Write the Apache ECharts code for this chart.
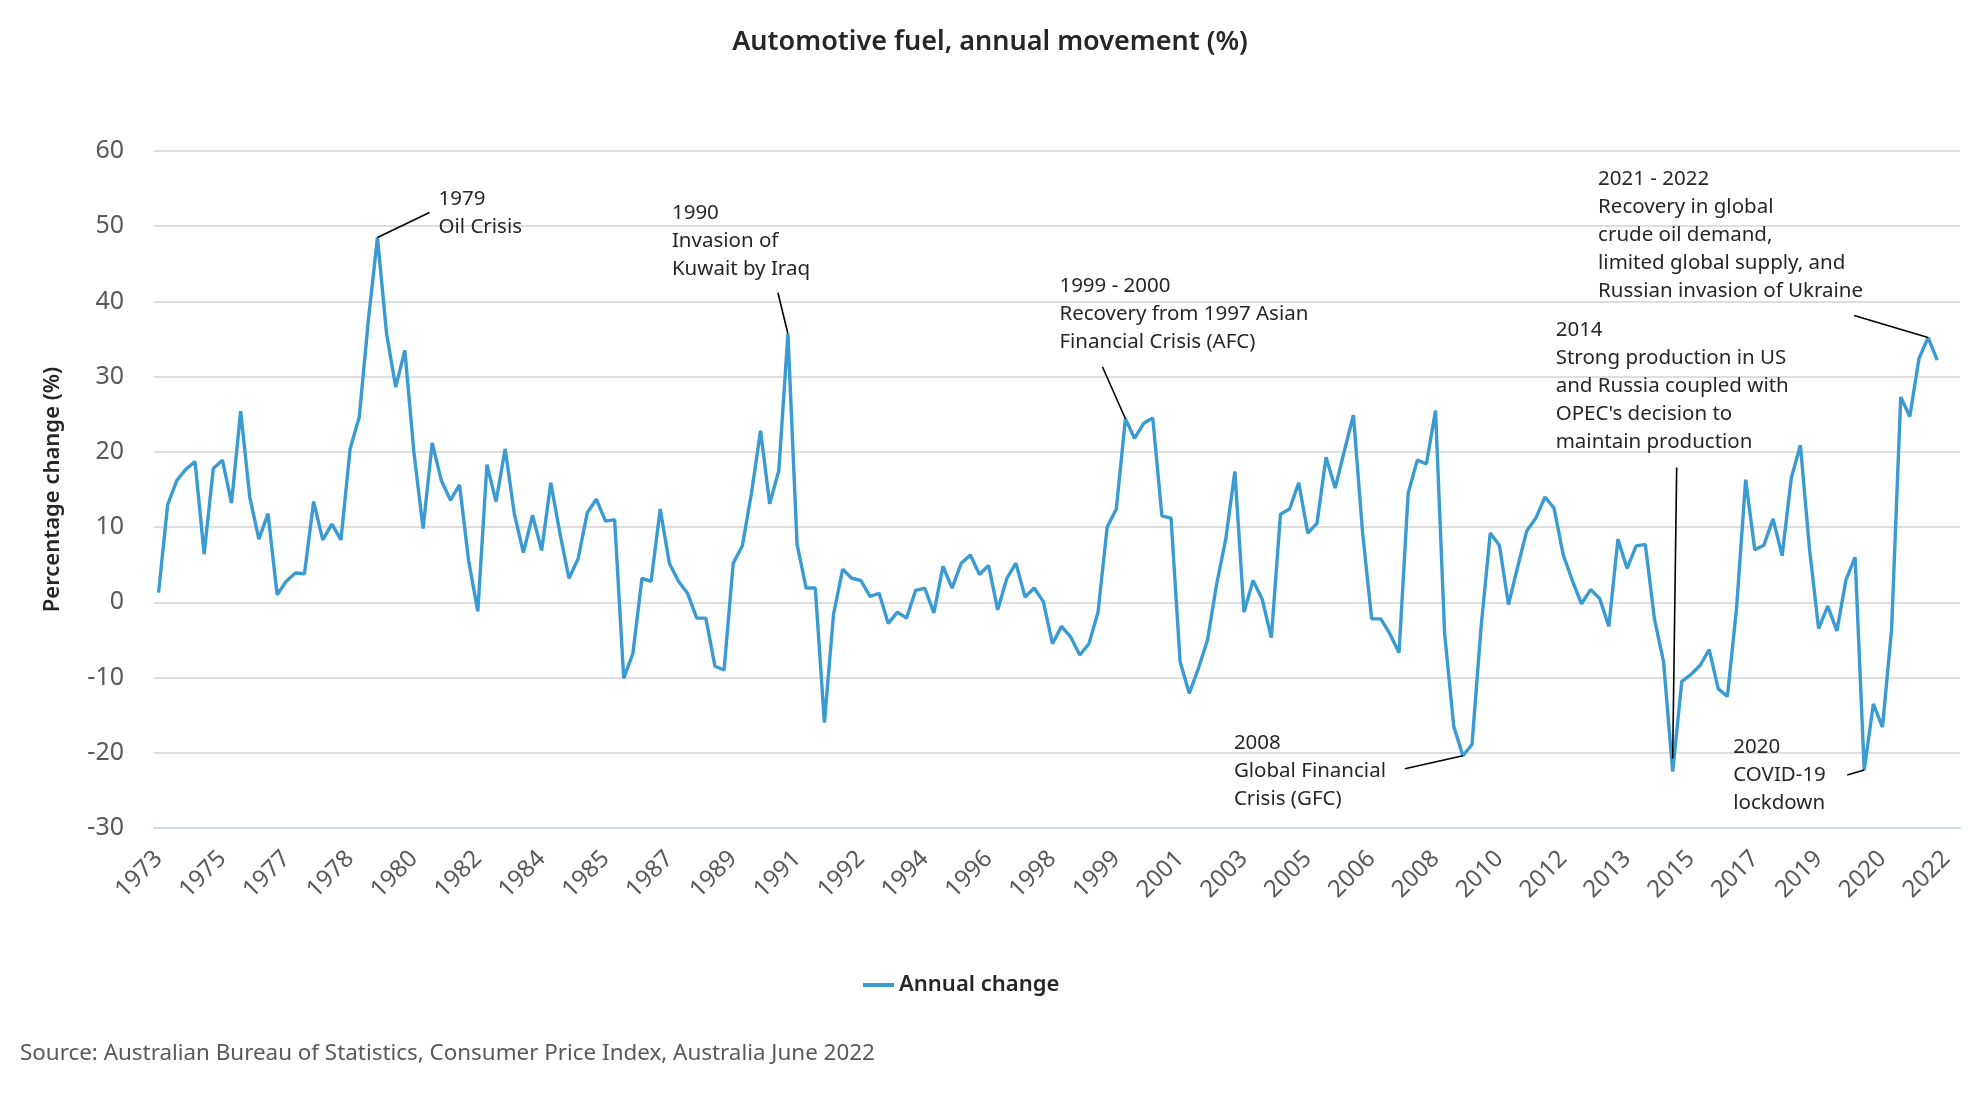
<!DOCTYPE html>
<html>
<head>
<meta charset="utf-8">
<title>Automotive fuel, annual movement (%)</title>
<script src="https://cdn.jsdelivr.net/npm/echarts@6/dist/echarts.min.js"></script>
<style>
  html, body { margin: 0; padding: 0; background: #ffffff; }
  #chart { width: 1980px; height: 1100px; }
</style>
</head>
<body>
<div id="chart"></div>
<script>
// quarterly categories, Sep 1973 .. Dec 2022 (last two quarters have no value yet)
const quarterMonths = ['Mar', 'Jun', 'Sep', 'Dec']
const categories = []
for (let y = 1973; y <= 2022; y++) {
  quarterMonths.forEach((m, q) => {
    if (y === 1973 && q < 2) return
    categories.push(m + ' ' + y)
  })
}

// annual change (%)
const annualChange = [
  1.3, 13.0, 16.2, 17.7, 18.7, 6.4, 17.8, 18.9, 13.2, 25.4, 14.0, 8.4, 11.8, 1.0, 2.8, 3.9, 3.8, 13.4, 8.3, 10.4, 8.3, 20.4, 24.6, 37.5, 48.5,
  35.7, 28.6, 33.5, 19.9, 9.8, 21.2, 16.2, 13.6, 15.6, 5.5, -1.2, 18.3, 13.4, 20.4, 11.8, 6.6, 11.6, 6.9, 15.9, 9.2, 3.2, 5.8, 11.9, 13.7, 10.8,
  11.0, -10.1, -6.8, 3.2, 2.8, 12.4, 5.2, 2.8, 1.2, -2.1, -2.1, -8.5, -9.0, 5.2, 7.5, 14.5, 22.8, 13.1, 17.5, 35.7, 7.7, 1.9, 1.9, -16.0, -1.6,
  4.4, 3.2, 2.9, 0.8, 1.2, -2.8, -1.3, -2.1, 1.6, 1.9, -1.4, 4.8, 1.9, 5.2, 6.3, 3.7, 4.9, -1.0, 3.2, 5.2, 0.7, 1.9, 0.1, -5.5, -3.2, -4.6,
  -7.0, -5.5, -1.3, 10.0, 12.4, 24.4, 21.8, 23.8, 24.5, 11.5, 11.2, -7.9, -12.1, -8.8, -5.0, 2.4, 8.4, 17.4, -1.3, 2.9, 0.4, -4.7, 11.7, 12.4, 15.9,
  9.2, 10.5, 19.3, 15.2, 20.1, 24.9, 9.3, -2.2, -2.2, -4.2, -6.7, 14.5, 18.9, 18.4, 25.5, -4.2, -16.5, -20.4, -18.9, -3.2, 9.2, 7.6, -0.3, 4.7, 9.5,
  11.2, 14.0, 12.5, 6.3, 2.9, -0.2, 1.7, 0.5, -3.2, 8.4, 4.5, 7.5, 7.7, -2.2, -7.9, -22.5, -10.5, -9.6, -8.4, -6.3, -11.5, -12.5, -0.8, 16.3, 7.0,
  7.6, 11.1, 6.2, 16.5, 20.9, 7.1, -3.5, -0.5, -3.8, 3.0, 6.0, -22.3, -13.5, -16.6, -3.6, 27.3, 24.7, 32.4, 35.2, 32.2,
]

const yTicks = { min: -30, max: 60, step: 10 }

// event notes: the point each one refers to, plus where the text and leader sit relative to it
const notes = [
  { idx: 24, text: '1979\nOil Crisis', textAt: [61, -52], lead: [[0, 0], [52, -25]] },
  { idx: 69, text: '1990\nInvasion of\nKuwait by Iraq', textAt: [-116, -135], lead: [[0, 0], [-10, -41]] },
  { idx: 106, text: '1999 - 2000\nRecovery from 1997 Asian\nFinancial Crisis (AFC)', textAt: [-66, -147], lead: [[0, 0], [-23, -52]] },
  { idx: 143, text: '2008\nGlobal Financial\nCrisis (GFC)', textAt: [-229, -27], lead: [[0, 0], [-58, 13]] },
  { idx: 166, text: "2014\nStrong production in US\nand Russia coupled with\nOPEC's decision to\nmaintain production", textAt: [-117, -455], lead: [[0, -13], [4, -304]] },
  { idx: 187, text: '2020\nCOVID-19\nlockdown', textAt: [-131, -37], lead: [[0, 0], [-17, 5]] },
  { idx: 194, text: '2021 - 2022\nRecovery in global\ncrude oil demand,\nlimited global supply, and\nRussian invasion of Ukraine', textAt: [-330, -172], lead: [[0, 0], [-74, -22]] },
]

const FONT = '"Noto Sans", "Open Sans", sans-serif'
const LINE_BLUE = '#3a9ad2'
const TEXT_DARK = '#262626'
const TEXT_GREY = '#595959'

const chart = echarts.init(document.getElementById('chart'), null, { renderer: 'canvas' })

chart.setOption({
  animation: false,
  backgroundColor: '#ffffff',
  textStyle: { fontFamily: FONT },
  title: {
    text: 'Automotive fuel, annual movement (%)',
    left: 'center',
    top: 24,
    textStyle: { fontFamily: FONT, fontSize: 27, fontWeight: 600, color: TEXT_DARK },
  },
  legend: {
    left: 858,
    top: 969,
    icon: 'rect',
    itemWidth: 31,
    itemHeight: 4,
    itemGap: 10,
    textStyle: { fontFamily: FONT, fontSize: 22, fontWeight: 600, color: TEXT_DARK },
    data: ['Annual change'],
  },
  grid: { left: 154, right: 20, top: 151, bottom: 272 },
  xAxis: {
    type: 'category',
    data: categories,
    boundaryGap: true,
    axisLine: { show: true, onZero: false, lineStyle: { color: '#cfd8ea', width: 2 } },
    axisTick: { show: false },
    axisLabel: {
      interval: 6,
      rotate: 45,
      margin: 27,
      fontFamily: FONT,
      fontSize: 24,
      color: TEXT_GREY,
      formatter: (v) => v.split(' ')[1],
    },
    splitLine: { show: false },
  },
  yAxis: {
    type: 'value',
    min: yTicks.min,
    max: yTicks.max,
    interval: yTicks.step,
    name: 'Percentage change (%)',
    nameLocation: 'middle',
    nameRotate: 90,
    nameGap: 90,
    nameTextStyle: { fontFamily: FONT, fontSize: 22, fontWeight: 600, color: TEXT_DARK },
    axisLine: { show: false },
    axisTick: { show: false },
    axisLabel: { fontFamily: FONT, fontSize: 25, color: TEXT_GREY, margin: 30 },
    splitLine: { lineStyle: { color: '#dedede', width: 2 } },
  },
  series: [
    {
      name: 'Annual change',
      type: 'line',
      data: annualChange,
      symbol: 'none',
      lineStyle: { color: LINE_BLUE, width: 3.4 },
      itemStyle: { color: LINE_BLUE },
    },
  ],
})

// notes and the source line go on as graphics, anchored to the plotted points
function drawNotes() {
  const elements = []
  notes.forEach((n) => {
    const [px, py] = chart.convertToPixel({ seriesIndex: 0 }, [n.idx, annualChange[n.idx]])
    elements.push({
      type: 'line',
      silent: true,
      shape: {
        x1: px + n.lead[0][0], y1: py + n.lead[0][1],
        x2: px + n.lead[1][0], y2: py + n.lead[1][1],
      },
      style: { stroke: '#000000', lineWidth: 1.6 },
      z: 10,
    })
    elements.push({
      type: 'text',
      silent: true,
      x: px + n.textAt[0],
      y: py + n.textAt[1],
      style: {
        text: n.text,
        fill: TEXT_DARK,
        fontFamily: FONT,
        fontSize: 20.5,
        lineHeight: 28,
        align: 'left',
        verticalAlign: 'top',
      },
      z: 10,
    })
  })
  elements.push({
    type: 'text',
    silent: true,
    left: 20,
    top: 1043,
    style: {
      text: 'Source: Australian Bureau of Statistics, Consumer Price Index, Australia June 2022',
      fill: TEXT_GREY,
      fontFamily: FONT,
      fontSize: 22.4,
    },
  })
  chart.setOption({ graphic: { elements } })
}

drawNotes()
window.addEventListener('resize', () => chart.resize())
</script>
</body>
</html>
